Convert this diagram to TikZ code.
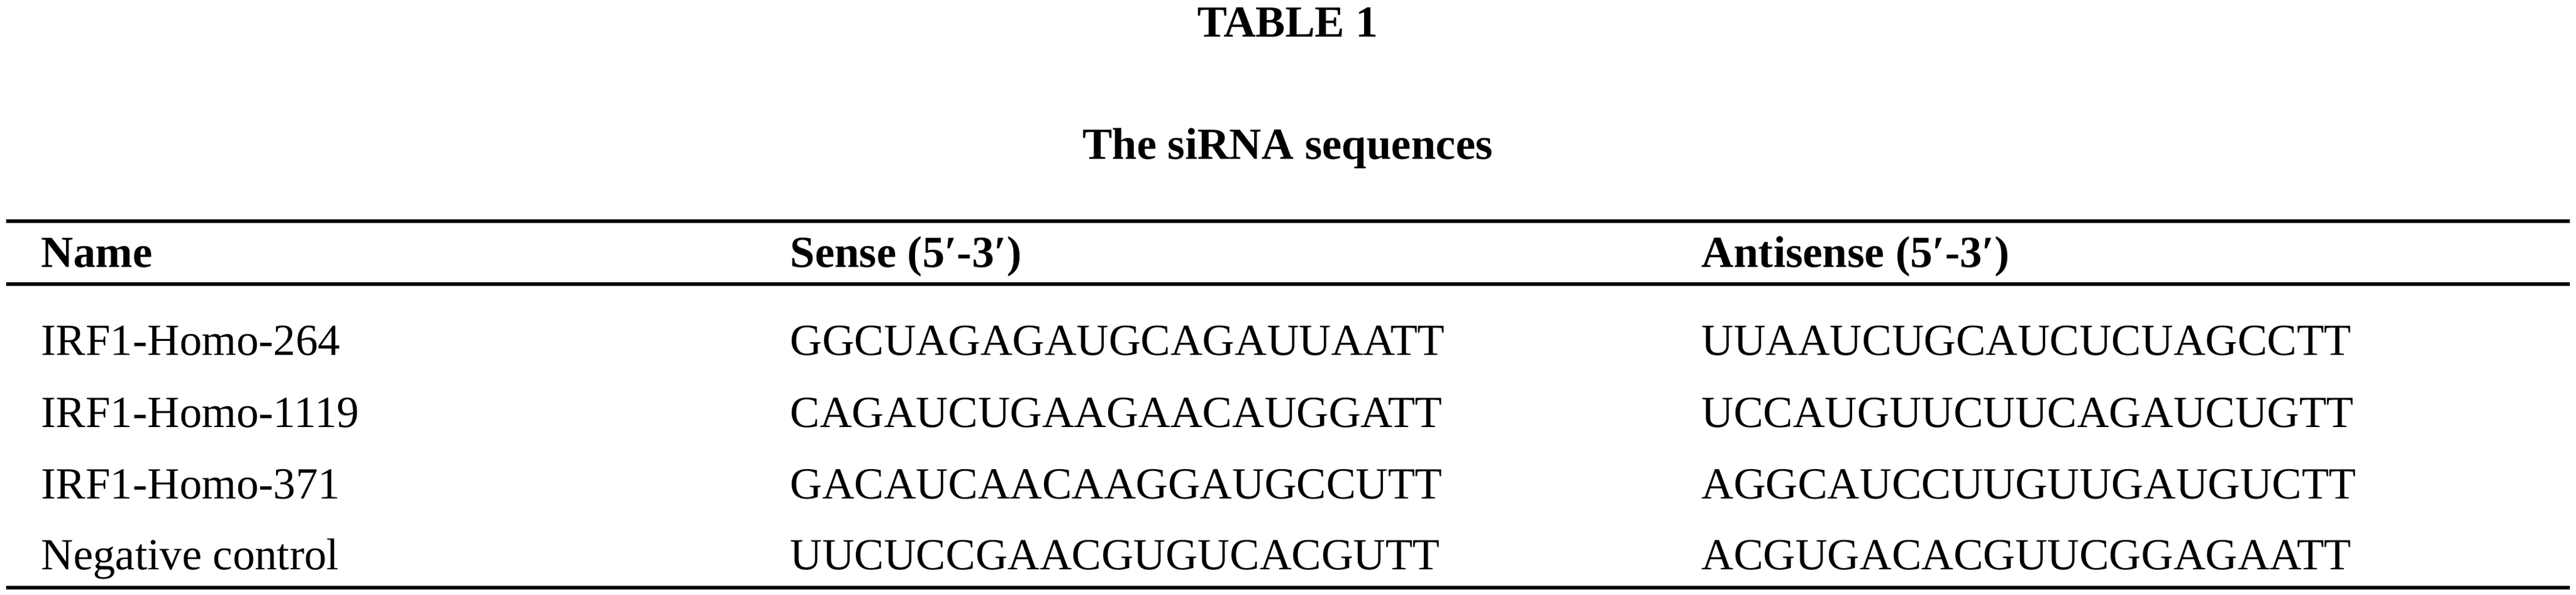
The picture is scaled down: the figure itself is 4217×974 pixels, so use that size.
\documentclass[tikz,border=0pt]{standalone}
\usepackage{fontspec}
\setmainfont{Liberation Serif}
\begin{document}
\begin{tikzpicture}[x=0.01cm,y=-0.01cm,
  txt/.style={anchor=base west,inner sep=0pt,font=\fontsize{20.7}{24}\selectfont},
  hd/.style={txt,font=\fontsize{20.7}{24}\selectfont\bfseries},
  rule/.style={line width=1.7pt}]
\useasboundingbox (0,0) rectangle (4217,974);
\node[hd,anchor=base] (t1) at (2108,61) {TABLE 1};
\node[hd,anchor=base] (t2) at (2108,261) {The siRNA sequences};
\coordinate (r1a) at (10,362); \coordinate (r1b) at (4207,362);
\coordinate (r2a) at (10,465); \coordinate (r2b) at (4207,465);
\coordinate (r3a) at (10,962); \coordinate (r3b) at (4207,962);
\draw[rule] (r1a) -- (r1b);
\draw[rule] (r2a) -- (r2b);
\draw[rule] (r3a) -- (r3b);
\node[hd] (h1) at (67,438) {Name};
\node[hd] (h2) at (1293,438) {Sense (5′-3′)};
\node[hd] (h3) at (2785,438) {Antisense (5′-3′)};
\node[txt] (a1) at (67,582) {IRF1-Homo-264};
\node[txt] (b1) at (1293,582) {GGCUAGAGAUGCAGAUUAATT};
\node[txt] (c1) at (2785,582) {UUAAUCUGCAUCUCUAGCCTT};
\node[txt] (a2) at (67,700) {IRF1-Homo-1119};
\node[txt] (b2) at (1293,700) {CAGAUCUGAAGAACAUGGATT};
\node[txt] (c2) at (2785,700) {UCCAUGUUCUUCAGAUCUGTT};
\node[txt] (a3) at (67,817) {IRF1-Homo-371};
\node[txt] (b3) at (1293,817) {GACAUCAACAAGGAUGCCUTT};
\node[txt] (c3) at (2785,817) {AGGCAUCCUUGUUGAUGUCTT};
\node[txt] (a4) at (67,933) {Negative control};
\node[txt] (b4) at (1293,933) {UUCUCCGAACGUGUCACGUTT};
\node[txt] (c4) at (2785,933) {ACGUGACACGUUCGGAGAATT};
\end{tikzpicture}
\end{document}
